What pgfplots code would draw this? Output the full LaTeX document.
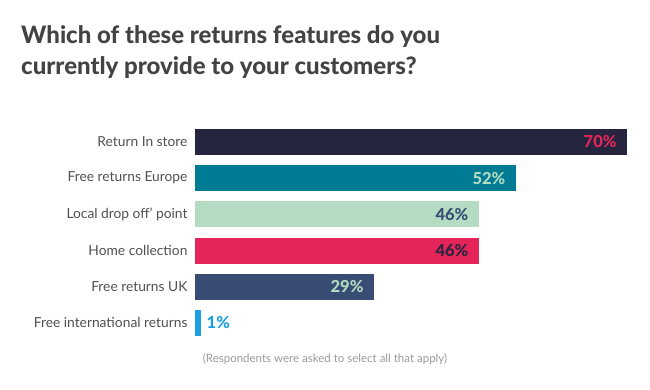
\documentclass[border=0pt]{standalone}
\usepackage{pgfplots}
\pgfplotsset{compat=1.18}
\usepackage{fontspec}
\setmainfont{Lato}
\newfontfamily\titlefont{Lato Heavy}
\definecolor{titlegray}{HTML}{434343}
\definecolor{labelgray}{HTML}{505050}
\definecolor{notegray}{HTML}{9A9A9A}
\definecolor{cnavy}{HTML}{26253F}
\definecolor{cteal}{HTML}{007B93}
\definecolor{cgreen}{HTML}{B3DCC2}
\definecolor{cpink}{HTML}{E52459}
\definecolor{cblue}{HTML}{394C74}
\definecolor{clight}{HTML}{1A9FE0}
\begin{document}
\begin{tikzpicture}
\useasboundingbox (0pt,0pt) rectangle (650pt,-390pt);
\node[anchor=north west, align=left, font=\titlefont\fontsize{24}{31}\selectfont, text=titlegray, inner sep=0pt] at (21pt,-25pt) {Which of these returns features do you\\currently provide to your customers?};
\begin{axis}[at={(195pt,-341pt)}, anchor=south west, scale only axis,
  width=432pt, height=217.2pt,
  xmin=0, xmax=70, ymin=-0.5, ymax=5.5, y dir=reverse,
  xbar, bar width=26pt,
  hide x axis, axis y line*=left, y axis line style={draw=none},
  ytick={0,1,2,3,4,5},
  yticklabels={Return In store, Free returns Europe, Local drop off' point, Home collection, Free returns UK, Free international returns},
  major tick length=0pt,
  yticklabel style={font=\fontsize{13.8}{13.8}\selectfont, text=labelgray, xshift=-4pt},
  /pgf/number format/assume math mode=true,
  nodes near coords={\pgfmathprintnumber{\pgfplotspointmeta}\%},
  every node near coord/.append style={font=\titlefont\fontsize{16.5}{16.5}\selectfont},
  clip=false]
\addplot[fill=cnavy, draw=none, bar shift=0pt, every node near coord/.append style={anchor=east, xshift=-7pt, text=cpink}] coordinates {(70,0)};
\addplot[fill=cteal, draw=none, bar shift=0pt, every node near coord/.append style={anchor=east, xshift=-7pt, text=cgreen}] coordinates {(52,1)};
\addplot[fill=cgreen, draw=none, bar shift=0pt, every node near coord/.append style={anchor=east, xshift=-7pt, text=cblue}] coordinates {(46,2)};
\addplot[fill=cpink, draw=none, bar shift=0pt, every node near coord/.append style={anchor=east, xshift=-7pt, text=cnavy}] coordinates {(46,3)};
\addplot[fill=cblue, draw=none, bar shift=0pt, every node near coord/.append style={anchor=east, xshift=-7pt, text=cgreen}] coordinates {(29,4)};
\addplot[fill=clight, draw=none, bar shift=0pt, every node near coord/.append style={anchor=west, xshift=2pt, text=clight}] coordinates {(1,5)};
\end{axis}
\node[font=\fontsize{11.5}{11.5}\selectfont, text=notegray] at (325pt,-359pt) {(Respondents were asked to select all that apply)};
\end{tikzpicture}
\end{document}
